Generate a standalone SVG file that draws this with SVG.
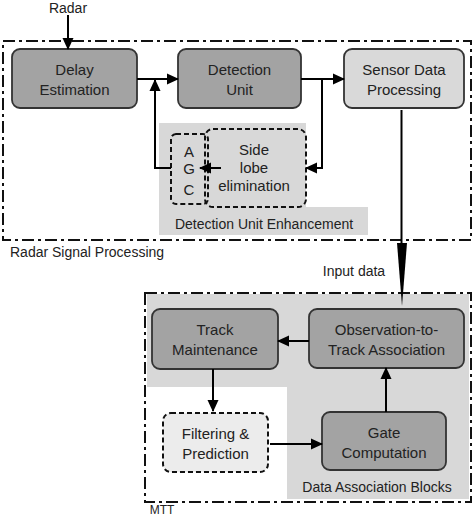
<svg xmlns="http://www.w3.org/2000/svg" width="474" height="516" viewBox="0 0 474 516">
<defs>
<marker id="ah" markerWidth="12" markerHeight="12" refX="11" refY="6" orient="auto" markerUnits="userSpaceOnUse">
<path d="M0,0.5 L12,6 L0,11.5 Z" fill="#000"/>
</marker>
<style>
text{font-family:"Liberation Sans",Arial,sans-serif;fill:#222;text-anchor:middle}
.lbl{font-size:15px}
.sm{font-size:14px}
.dd{fill:none;stroke:#111;stroke-width:2;stroke-dasharray:12 4 3 4}
.dark{fill:#a3a3a3;stroke:#333;stroke-width:1.8}
.light{fill:#d9d9d9;stroke:#333;stroke-width:1.8}
.dash{stroke:#111;stroke-width:2;stroke-dasharray:5 3}
.ln{fill:none;stroke:#000;stroke-width:2}
.reg{fill:#d8d8d8}
</style>
</defs>
<rect width="474" height="516" fill="#fff"/>

<g id="radar-signal-processing">
<rect class="dd" x="3" y="41" width="468" height="199"/>
<text class="sm" x="10" y="257" style="text-anchor:start">Radar Signal Processing</text>
</g>
<g id="detection-unit-enhancement">
<path class="reg" d="M159,123 H306 V207 H368 V235 H159 Z"/>
<text class="sm" x="264" y="229">Detection Unit Enhancement</text>
</g>
<g id="mtt">
<path class="reg" d="M147,294 H469 V499 H287 V387 H147 Z"/>
<rect class="dd" x="145" y="293" width="326" height="209"/>
<text x="162" y="514" style="font-size:12px">MTT</text>
<text class="sm" x="377" y="492">Data Association Blocks</text>
</g>

<g id="radar-input">
<text class="sm" x="68" y="13">Radar</text>
</g>
<g id="delay-estimation">
<rect class="dark" x="12" y="49" width="125" height="59" rx="8"/>
<text class="lbl" x="74.5" y="75">Delay</text>
<text class="lbl" x="74.5" y="95">Estimation</text>
</g>
<g id="detection-unit">
<rect class="dark" x="178" y="49" width="123" height="59" rx="8"/>
<text class="lbl" x="239.5" y="75">Detection</text>
<text class="lbl" x="239.5" y="95">Unit</text>
</g>
<g id="sensor-data-processing">
<rect class="light" x="344" y="49" width="120" height="59" rx="8"/>
<text class="lbl" x="404" y="75">Sensor Data</text>
<text class="lbl" x="404" y="95">Processing</text>
</g>
<g id="side-lobe-elimination">
<rect class="dash" fill="#d8d8d8" x="205" y="129" width="101" height="78" rx="8"/>
<text class="lbl" x="254" y="155">Side</text>
<text class="lbl" x="254" y="173">lobe</text>
<text class="lbl" x="254" y="191">elimination</text>
</g>
<g id="agc">
<rect class="dash" fill="none" x="171" y="134" width="37" height="70" rx="5"/>
<text class="lbl" x="189" y="157">A</text>
<text class="lbl" x="189" y="174">G</text>
<text class="lbl" x="189" y="195">C</text>
</g>
<g id="track-maintenance">
<rect class="dark" x="152" y="309" width="126" height="60" rx="8"/>
<text class="lbl" x="215" y="335">Track</text>
<text class="lbl" x="215" y="355">Maintenance</text>
</g>
<g id="observation-to-track-association">
<rect class="dark" x="309" y="309" width="155" height="59" rx="8"/>
<text class="lbl" x="386.5" y="335">Observation-to-</text>
<text class="lbl" x="386.5" y="355">Track Association</text>
</g>
<g id="filtering-prediction">
<rect class="dash" fill="#ececec" x="163" y="413" width="105" height="59" rx="8"/>
<text class="lbl" x="215.5" y="439">Filtering &amp;</text>
<text class="lbl" x="215.5" y="459">Prediction</text>
</g>
<g id="gate-computation">
<rect class="dark" x="322" y="412" width="124" height="58" rx="8"/>
<text class="lbl" x="384" y="438">Gate</text>
<text class="lbl" x="384" y="458">Computation</text>
</g>

<g id="connectors">
<line class="ln" x1="68" y1="15" x2="68" y2="49" marker-end="url(#ah)"/>
<line class="ln" x1="137" y1="79" x2="178" y2="79" marker-end="url(#ah)"/>
<polyline class="ln" points="171,168 155,168 155,80" marker-end="url(#ah)"/>
<line class="ln" x1="301" y1="79" x2="344" y2="79" marker-end="url(#ah)"/>
<polyline class="ln" points="322,79 322,168 306,168" marker-end="url(#ah)"/>
<line class="ln" x1="221" y1="168" x2="200" y2="168" marker-end="url(#ah)"/>
<line class="ln" x1="401.5" y1="110" x2="401.5" y2="245"/>
<polygon points="397,243 407,243 402,306" fill="#000"/>
<text class="sm" x="354" y="276">Input data</text>
<line class="ln" x1="309" y1="341" x2="278" y2="341" marker-end="url(#ah)"/>
<line class="ln" x1="213" y1="369" x2="213" y2="411" marker-end="url(#ah)"/>
<line class="ln" x1="270" y1="444" x2="322" y2="444" marker-end="url(#ah)"/>
<line class="ln" x1="386" y1="412" x2="386" y2="368" marker-end="url(#ah)"/>
</g>
</svg>
